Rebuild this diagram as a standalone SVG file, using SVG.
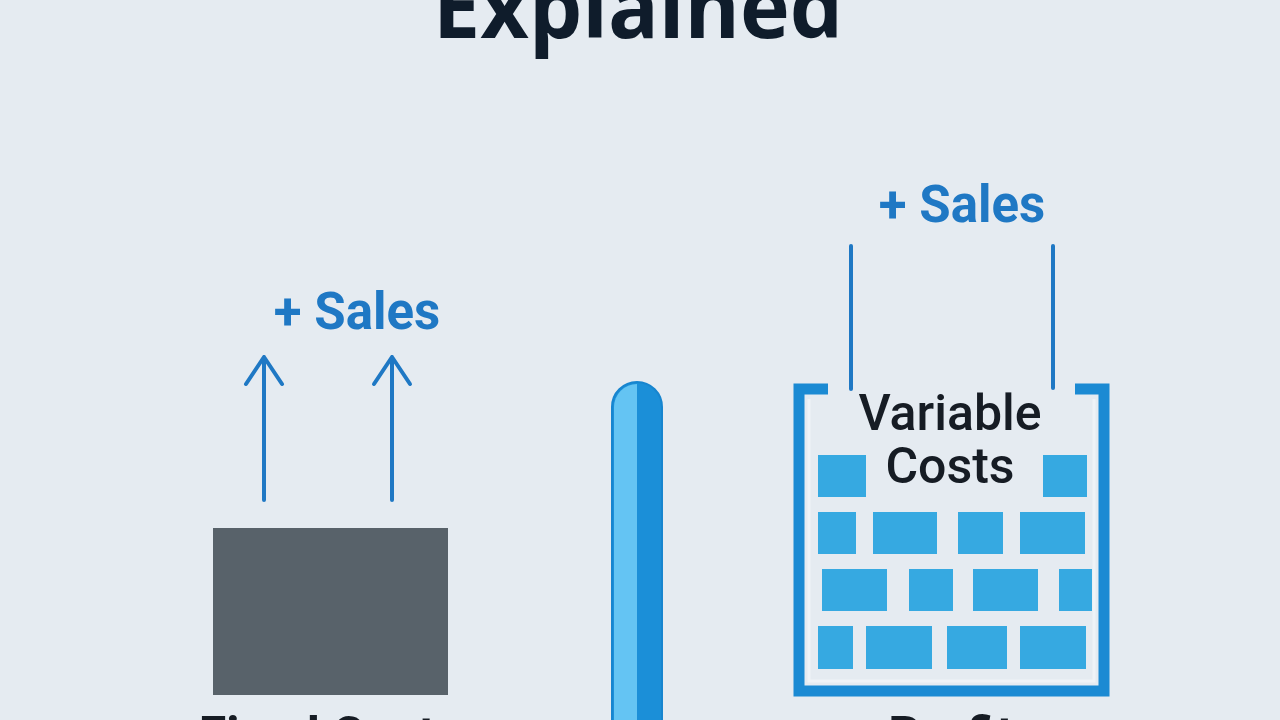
<svg xmlns="http://www.w3.org/2000/svg" width="1280" height="720" viewBox="0 0 1280 720">
<defs>
<style>
.title{font-family:"Open Sans","Liberation Sans",sans-serif;font-weight:700;fill:#0f1c2b}
.sales{font-family:Roboto,"Liberation Sans",sans-serif;font-weight:700;fill:#1f78c4;font-size:51px}
.label{font-family:Roboto,"Liberation Sans",sans-serif;font-weight:500;fill:#161c24;font-size:50px}
.blabel{font-family:Roboto,"Liberation Sans",sans-serif;font-weight:700;fill:#161c24;font-size:50px}
.line{stroke:#1f78c4;stroke-width:4;fill:none;stroke-linecap:round;stroke-linejoin:round}
.brick{fill:#36a9e1}
</style>
</defs>
<rect width="1280" height="720" fill="#e5ebf1"/>
<text class="title" x="638" y="38" font-size="86" text-anchor="middle" textLength="410" lengthAdjust="spacingAndGlyphs">Explained</text>

<g id="connectors">
<path class="line" d="M264 500V357M246 384L264 357L282 384"/>
<path class="line" d="M392 500V357M374 384L392 357L410 384"/>
<path class="line" d="M851 246V389"/>
<path class="line" d="M1053 246V388"/>
</g>

<g id="sales-left">
<text class="sales" x="357" y="329" text-anchor="middle">+ Sales</text>
</g>

<g id="fixed-costs">
<rect x="213" y="528" width="235" height="167" fill="#58626a"/>
<text class="blabel" x="330" y="752" text-anchor="middle">Fixed Costs</text>
</g>

<g id="thermometer">
<path d="M612 720V407a25 25 0 0 1 50 0V720Z" fill="#1b8fd8"/>
<path d="M614 720V407a23 23 0 0 1 23 -23V720Z" fill="#64c4f3"/>
<path d="M612 720V407a25 25 0 0 1 50 0V720" fill="none" stroke="#1785cf" stroke-width="2"/>
</g>

<g id="sales-right">
<text class="sales" x="962" y="222" text-anchor="middle">+ Sales</text>
</g>

<g id="variable-costs">
<path d="M828 389H799V691H1104V389H1075" fill="none" stroke="#1b8ad3" stroke-width="11"/>
<path d="M809 399V681H1094V399" fill="none" stroke="#f3f6f9" stroke-width="3" opacity="0.7"/>
<rect class="brick" x="818" y="455" width="48" height="42"/>
<rect class="brick" x="1043" y="455" width="44" height="42"/>
<rect class="brick" x="818" y="512" width="38" height="42"/>
<rect class="brick" x="873" y="512" width="64" height="42"/>
<rect class="brick" x="958" y="512" width="45" height="42"/>
<rect class="brick" x="1020" y="512" width="65" height="42"/>
<rect class="brick" x="822" y="569" width="65" height="42"/>
<rect class="brick" x="909" y="569" width="44" height="42"/>
<rect class="brick" x="973" y="569" width="65" height="42"/>
<rect class="brick" x="1059" y="569" width="33" height="42"/>
<rect class="brick" x="818" y="626" width="35" height="43"/>
<rect class="brick" x="866" y="626" width="66" height="43"/>
<rect class="brick" x="947" y="626" width="60" height="43"/>
<rect class="brick" x="1020" y="626" width="66" height="43"/>
<text class="label" x="950" y="430" text-anchor="middle">Variable</text>
<text class="label" x="950" y="483" text-anchor="middle">Costs</text>
</g>

<g id="profit">
<text class="blabel" x="951" y="752" text-anchor="middle">Profit</text>
</g>
</svg>
